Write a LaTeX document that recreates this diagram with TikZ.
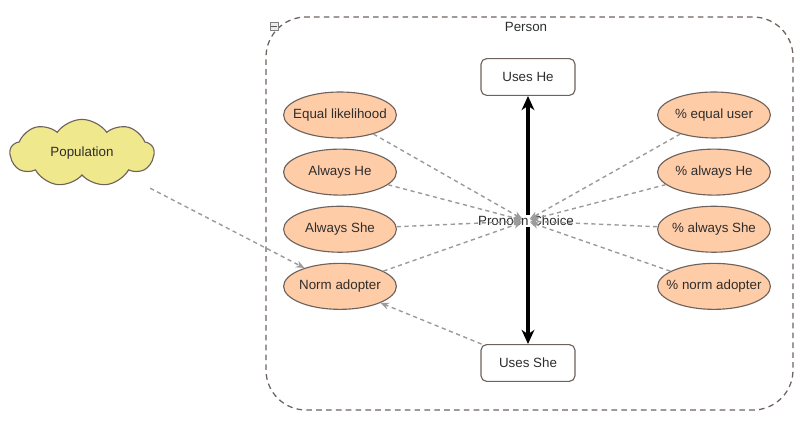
\documentclass[tikz,border=0pt]{standalone}
\usepackage{fontspec}
\setmainfont{Liberation Sans}
\usetikzlibrary{arrows.meta,shapes.geometric,shapes.symbols,positioning}
\definecolor{peach}{RGB}{255,204,168}
\definecolor{straw}{RGB}{240,232,140}
\definecolor{rim}{RGB}{110,98,92}
\definecolor{dashgray}{RGB}{155,155,155}
\definecolor{txt}{RGB}{45,45,45}

\begin{document}
\begin{tikzpicture}[
font=\fontsize{9.5}{11}\selectfont, text=txt,
trait/.style={draw=rim,fill=peach,ellipse,line width=0.8pt,minimum width=2.82cm,minimum height=1.15cm,inner xsep=-8pt,inner ysep=0pt},
usebox/.style={draw=rim,rectangle,rounded corners=4pt,line width=0.8pt,minimum width=2.35cm,minimum height=0.92cm,fill=white},
link/.style={draw=dashgray,line width=1pt,dash pattern=on 3pt off 2.5pt,-{Stealth[length=6pt,width=5pt]},dashgray}]
\useasboundingbox (0,0) rectangle (20,10.575);
\draw[rim,line width=0.9pt,dash pattern=on 4pt off 3pt,rounded corners=1cm] (6.65,0.325) rectangle (19.825,10.15);
\node (person) at (13.15,9.9) {Person};
\node (fold) [draw=gray,fill=gray!15,minimum size=6pt,inner sep=0pt] at (6.85,9.92) {};
\draw[gray!70!black,line width=0.6pt] ([xshift=1.2pt]fold.west) -- ([xshift=-1.2pt]fold.east);

\node (uhe) [usebox] at (13.2,8.65) {Uses He};
\node (ushe) [usebox] at (13.2,1.5) {Uses She};
\draw[line width=2.2pt,{Stealth[length=10pt,width=9pt,inset=3pt]}-{Stealth[length=10pt,width=9pt,inset=3pt]}] (uhe) -- (ushe);
\node (pchoice) [fill=white,inner sep=1pt] at (13.15,5.05) {Pronoun Choice};

\node (eqlik) [trait] at (8.5,7.7) {Equal likelihood};
\node (alhe) [trait,below=0.25cm of eqlik] {Always He};
\node (alshe) [trait,below=0.25cm of alhe] {Always She};
\node (norm) [trait,below=0.25cm of alshe] {Norm adopter};

\node (pceq) [trait] at (17.85,7.7) {\% equal user};
\node (pche) [trait,below=0.25cm of pceq] {\% always He};
\node (pcshe) [trait,below=0.25cm of pche] {\% always She};
\node (pcnorm) [trait,below=0.25cm of pcshe] {\% norm adopter};

\node (pop) [cloud,cloud puffs=9,cloud puff arc=110,aspect=2.2,draw=rim,fill=straw,line width=0.8pt,minimum width=3.6cm,minimum height=1.68cm] at (2.05,6.75) {Population};

\foreach \src in {eqlik,alhe,alshe,norm,pceq,pche,pcshe,pcnorm}
  \draw[link,shorten >=3pt] (\src) -- (pchoice.center);
\draw[link,shorten <=0.7cm] (pop) -- (norm);
\draw[link] (ushe) -- (norm);
\end{tikzpicture}
\end{document}
